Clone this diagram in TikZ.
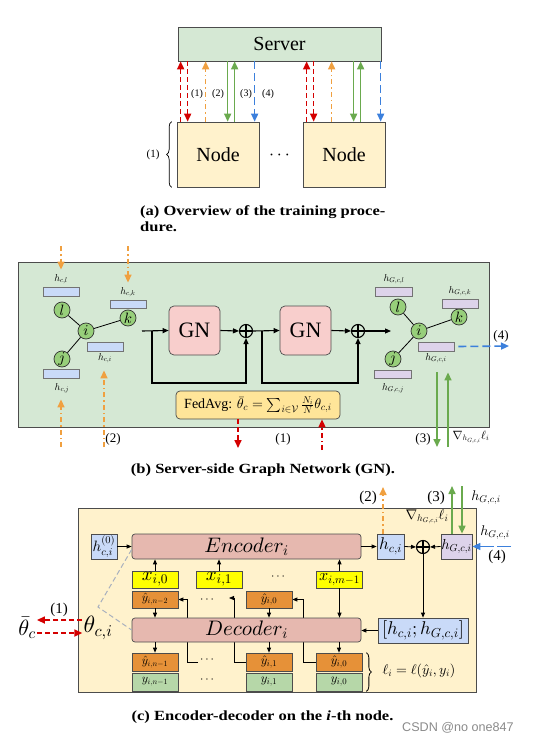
\documentclass[tikz,border=0pt]{standalone}
\usepackage{amsmath,amssymb}
\usepackage{fontspec}
\setmainfont{Liberation Serif}
\newfontfamily\capfont[FakeStretch=1.18]{Liberation Serif}
\newfontfamily\wmfont{Liberation Sans}
\DeclareFontShape{OML}{cmm}{m}{it}{<->cmmi10}{}
\DeclareFontShape{OMS}{cmsy}{m}{n}{<->cmsy10}{}
\DeclareFontShape{OMX}{cmex}{m}{n}{<->cmex10}{}
\DeclareFontShape{OT1}{cmr}{m}{n}{<->cmr10}{}
\usetikzlibrary{arrows.meta,decorations.pathreplacing,backgrounds}
\definecolor{cgreen}{HTML}{D5E8D4}
\definecolor{cyellow}{HTML}{FFF2CC}
\definecolor{cpink}{HTML}{F8CECC}
\definecolor{cnode}{HTML}{97CF7A}
\definecolor{cblue}{HTML}{C9DAF8}
\definecolor{cpurple}{HTML}{DDD3EA}
\definecolor{cfed}{HTML}{FFE599}
\definecolor{cenc}{HTML}{E6B8AF}
\definecolor{cxx}{HTML}{FFFF00}
\definecolor{cyhat}{HTML}{E69138}
\definecolor{cyy}{HTML}{B6D7A8}
\definecolor{cred}{HTML}{D40000}
\definecolor{corange}{HTML}{F0A040}
\definecolor{cgarr}{HTML}{6AAA4E}
\definecolor{cbarr}{HTML}{3C80DC}
\definecolor{cgray}{HTML}{A8B0BE}
\definecolor{cwm}{HTML}{8A8A8A}
\tikzset{
  fs/.style={font=\fontsize{#1}{#1}\selectfont},
  bx/.style={draw=black!70, line width=0.7pt, inner sep=0pt},
  bar/.style={draw=black!55, line width=0.6pt, fill=#1, minimum width=36, minimum height=9, inner sep=0pt},
  sbox/.style={bx, fill=#1, minimum width=46, minimum height=17},
  gnode/.style={circle, draw=black!80, line width=0.7pt, fill=cnode, minimum size=16, inner sep=0pt, fs=15},
  gnbox/.style={bx, fill=cpink, rounded corners=5pt, minimum width=51, minimum height=49, fs=22},
  opl/.style={circle, draw, line width=1.1pt, minimum size=13, inner sep=0pt,
    path picture={\draw[line width=1.1pt] (path picture bounding box.north) -- (path picture bounding box.south)
      (path picture bounding box.west) -- (path picture bounding box.east);}},
  tipk/.style={-{Triangle[length=6pt,width=5pt]}},
  blk/.style={draw=black, line width=1.1pt},
  blkc/.style={draw=black, line width=0.8pt, -{Triangle[length=5pt,width=4pt]}},
  harr/.style={line width=1.6pt, -{Triangle[length=8pt,width=7pt]}},
  rdash/.style={harr, cred, dash pattern=on 5pt off 3pt},
  rdd/.style={harr, cred, dash pattern=on 5pt off 3pt on 1.5pt off 3pt},
  odd/.style={harr, corange, dash pattern=on 5pt off 3pt on 1.5pt off 3pt},
  gsol/.style={harr, cgarr},
  bdash/.style={harr, cbarr, dash pattern=on 8pt off 4pt},
  captxt/.style={font=\fontsize{14}{16}\selectfont\capfont\bfseries, inner sep=0pt},
}
\begin{document}
\begin{tikzpicture}[x=1pt,y=-1pt]
\useasboundingbox (0,0) rectangle (542,741);
% ================= (a) =================
\node[bx, fill=cgreen, minimum width=203, minimum height=34, fs=20] (server) at (279.5,44) {Server};
\node[bx, fill=cyellow, minimum width=82, minimum height=65, fs=20] (nodeL) at (218,154.5) {Node};
\node[bx, fill=cyellow, minimum width=82, minimum height=65, fs=20] (nodeR) at (344,154.5) {Node};
\node[fs=18] (adots) at (281,155) {$\cdots$};
\foreach \n in {nodeL,nodeR}{
  \draw[rdash] ([xshift=4pt]\n.north west) -- ([xshift=4pt]\n.north west |- server.south);
  \draw[rdash] ([xshift=11pt]\n.north west |- server.south) -- ([xshift=11pt]\n.north west);
  \draw[odd] ([xshift=29pt]\n.north west) -- ([xshift=29pt]\n.north west |- server.south);
  \draw[gsol] ([xshift=51pt]\n.north west |- server.south) -- ([xshift=51pt]\n.north west);
  \draw[gsol] ([xshift=58pt]\n.north west) -- ([xshift=58pt]\n.north west |- server.south);
  \draw[bdash] ([xshift=78pt]\n.north west |- server.south) -- ([xshift=78pt]\n.north west);
}
\node[fs=10] (la1) at (197,94) {(1)};
\node[fs=10] (la2) at (218,94) {(2)};
\node[fs=10] (la3) at (246,94) {(3)};
\node[fs=10] (la4) at (268,94) {(4)};
\draw[decorate, decoration={brace, amplitude=5pt}, line width=0.7pt] ([xshift=-5pt]nodeL.south west) -- ([xshift=-5pt]nodeL.north west);
\node[fs=11] (lab1) at (153,155) {(1)};
\node[captxt, anchor=base west] (capa1) at (140,215) {(a) Overview of the training proce-};
\node[captxt, anchor=base west] (capa2) at (140,231) {dure.};
% ================= (b) =================
\node[bx, fill=cgreen, minimum width=471, minimum height=165] (gbox) at (253.5,344.5) {};
\node[gnode] (gl) at (62,310) {$l$};
\node[gnode] (gi) at (86,331) {$i$};
\node[gnode] (gk) at (128,318) {$k$};
\node[gnode] (gj) at (62,359) {$j$};
\draw[line width=0.8pt] (gl) -- (gi);
\draw[line width=0.8pt] (gi) -- (gk);
\draw[line width=0.8pt] (gi) -- (gj);
\node[bar=cblue] (hcl) at (61,291.5) {};
\node[bar=cblue, minimum height=8] (hck) at (128.5,304) {};
\node[bar=cblue] (hci) at (105,346.5) {};
\node[bar=cblue] (hcj) at (61,373.5) {};
\node[fs=10] (hcllab) at (61,279) {$h_{c,l}$};
\node[fs=10] (hcklab) at (128,292) {$h_{c,k}$};
\node[fs=10] (hcilab) at (105,358) {$h_{c,i}$};
\node[fs=10] (hcjlab) at (62,388) {$h_{c,j}$};
\coordinate (o1) at (61,246);
\coordinate (o2) at (128,246);
\coordinate (o3) at (61,447);
\coordinate (o4) at (104,447);
\draw[odd] (o1) -- ([yshift=1pt]o1 |- hcllab.north);
\draw[odd] (o2) -- ([yshift=1pt]o2 |- hcklab.north);
\draw[odd] (o3) -- ([yshift=-3pt]o3 |- hcjlab.south);
\draw[odd] (o4) -- ([yshift=-4pt]o4 |- hcilab.south);
\node[fs=13] (lb2) at (113,439) {(2)};
\node[gnbox] (gn1) at (194.5,330.5) {GN};
\node[opl] (op1) at (246,331) {};
\node[gnbox] (gn2) at (305.5,330.5) {GN};
\node[opl] (op2) at (358,331) {};
\coordinate (bin) at (142,331);
\coordinate (s1) at (152,331);
\coordinate (s1b) at (152,383);
\coordinate (s2) at (262,331);
\coordinate (s2b) at (262,383);
\coordinate (bout) at (391,331);
\draw[blk, tipk] (bin) -- (gn1.west);
\draw[blk, tipk] (s1) -- (s1b) -- (s1b -| op1) -- (op1.south);
\draw[blk, tipk] (gn1.east) -- (op1.west);
\draw[blk, tipk] (op1.east) -- (gn2.west);
\draw[blk, tipk] (s2) -- (s2b) -- (s2b -| op2) -- (op2.south);
\draw[blk, tipk] (gn2.east) -- (op2.west);
\draw[blk, tipk] (op2.east) -- (bout);
\node[gnode] (Gl) at (398,307) {$l$};
\node[gnode] (Gi) at (419,331) {$i$};
\node[gnode] (Gk) at (459,317) {$k$};
\node[gnode] (Gj) at (393,359) {$j$};
\draw[line width=0.8pt] (Gl) -- (Gi);
\draw[line width=0.8pt] (Gi) -- (Gk);
\draw[line width=0.8pt] (Gi) -- (Gj);
\node[bar=cpurple, minimum width=37] (hGl) at (393.5,291.5) {};
\node[bar=cpurple] (hGk) at (460,303.5) {};
\node[bar=cpurple] (hGi) at (436,346.5) {};
\node[bar=cpurple, minimum width=37, minimum height=8] (hGj) at (392.5,374) {};
\node[fs=10] (hGllab) at (394,279) {$h_{G,c,l}$};
\node[fs=10] (hGklab) at (460,291) {$h_{G,c,k}$};
\node[fs=10] (hGilab) at (436,358) {$h_{G,c,i}$};
\node[fs=10] (hGjlab) at (393,388) {$h_{G,c,j}$};
\coordinate (b4b) at (509,346);
\draw[bdash] ([xshift=4pt]hGi.east) -- (b4b);
\node[fs=13] (lb4) at (501,336) {(4)};
\coordinate (gb1) at (437,447);
\coordinate (gb2) at (448,447);
\draw[gsol] ([yshift=-6pt]gb1 |- hGilab.south) -- (gb1);
\draw[gsol] (gb2) -- ([yshift=-6pt]gb2 |- hGilab.south);
\node[fs=13] (lb3) at (423,439) {(3)};
\node[fs=12] (lbn) at (471,437) {$\nabla_{h_{G,c,i}}\ell_i$};
\node[bx, fill=cfed, rounded corners=4pt, minimum width=164, minimum height=28, fs=14] (fed) at (258,405)
  {FedAvg: $\bar\theta_c = \sum_{i\in\mathcal{V}} \frac{N_i}{N}\theta_{c,i}$};
\coordinate (r1) at (238,448);
\coordinate (r2) at (322,450);
\draw[rdash] ([xshift=-20pt]fed.south) -- (r1);
\draw[rdd] (r2) -- ([xshift=64pt]fed.south);
\node[fs=13] (lb1) at (283,439) {(1)};
\node[captxt, anchor=base] (capb) at (263,473) {(b) Server-side Graph Network (GN).};
% ================= (c) =================
\node[bx, fill=cblue, minimum width=26, minimum height=25, fs=15] (h0) at (104,546.5) {$h^{(0)}_{c,i}$};
\node[bx, fill=cenc, rounded corners=3pt, minimum width=229, minimum height=25, fs=21] (enc) at (246.5,546.5) {$Encoder_i$};
\node[bx, fill=cenc, rounded corners=3pt, minimum width=229, minimum height=24, fs=21] (dec) at (246.5,630) {$Decoder_i$};
\node[sbox=cxx, fs=19] (x0) at (155,579.5) {$x_{i,0}$};
\node[sbox=cxx, fs=19] (x1) at (219,579.5) {$x_{i,1}$};
\node[sbox=cxx, fs=16] (xm) at (339.5,579.5) {$x_{i,m-1}$};
\node[fs=12] (xd) at (279,577) {$\cdots$};
\node[sbox=cyhat, fs=12] (yt2) at (155,599.5) {$\hat y_{i,n-2}$};
\node[sbox=cyhat, fs=12.5] (yt0) at (269,599.5) {$\hat y_{i,0}$};
\node[fs=12] (ytd) at (208,600) {$\cdots$};
\node[sbox=cyhat, minimum height=18, fs=12] (yb1) at (155,662) {$\hat y_{i,n-1}$};
\node[sbox=cyhat, minimum height=18, fs=12.5] (yb2) at (269,662) {$\hat y_{i,1}$};
\node[sbox=cyhat, minimum height=18, fs=12.5] (yb3) at (339,662) {$\hat y_{i,0}$};
\node[fs=12] (ybd) at (208,660) {$\cdots$};
\node[sbox=cyy, minimum height=18, fs=12] (y1) at (155,682) {$y_{i,n-1}$};
\node[sbox=cyy, minimum height=18, fs=12.5] (y2) at (269,682) {$y_{i,1}$};
\node[sbox=cyy, minimum height=18, fs=12.5] (y3) at (339,682) {$y_{i,0}$};
\node[fs=12] (yd) at (208,680) {$\cdots$};
\draw[blkc] (h0.east) -- (enc.west);
\foreach \b in {x0,x1,xm}{ \draw[blkc] (\b.north) -- (\b.north |- enc.south); }
\draw[blkc] (xm.south) -- (xm.south |- dec.north);
\foreach \b in {yt2,yt0}{ \draw[blkc] (\b.south) -- (\b.south |- dec.north); }
\foreach \b in {yb1,yb2,yb3}{ \draw[blkc] (\b.north |- dec.south) -- (\b.north); }
\node[bx, fill=cblue, minimum width=27, minimum height=25, fs=17] (hcic) at (390.5,546.5) {$h_{c,i}$};
\node[opl] (op3) at (423,547) {};
\node[bx, fill=cpurple, minimum width=31, minimum height=25, fs=14.5] (hgci) at (456.5,546.5) {$h_{G,c,i}$};
\node[bx, fill=cblue, minimum width=90, minimum height=25, fs=18.5] (cat) at (423,630.5) {$[h_{c,i};h_{G,c,i}]$};
\draw[blkc] (enc.east |- hcic.west) -- (hcic.west);
\draw[blkc] (hcic.east) -- (op3.west);
\draw[blkc] (hgci.west) -- (op3.east);
\draw[blkc] (op3.south) -- (cat.north);
\draw[blkc] (cat.west) -- (cat.west -| dec.east);
\coordinate (g3a) at (452,486);
\coordinate (g3b) at (462,486);
\draw[gsol] (g3a |- hgci.north) -- (g3a);
\draw[gsol] (g3b) -- (g3b |- hgci.north);
\coordinate (b4c) at (511,546.5);
\draw[bdash, dash pattern=on 14pt off 3pt] (b4c) -- (hgci.east);
\coordinate (o2c) at (383,487);
\draw[odd] (o2c |- hcic.north) -- (o2c);
\node[fs=15] (lc2) at (368,498) {(2)};
\node[fs=15] (lc3) at (436,498) {(3)};
\node[fs=14] (lchg) at (486,498) {$h_{G,c,i}$};
\node[fs=14] (lcnab) at (427,517) {$\nabla_{h_{G,c,i}}\ell_i$};
\node[fs=14] (lchg2) at (495,533) {$h_{G,c,i}$};
\node[fs=15] (lc4) at (497,557) {(4)};
\node[fs=23.5, inner sep=1pt] (theta) at (98,628) {$\theta_{c,i}$};
\node[fs=22, inner sep=1pt] (thetabar) at (27,628) {$\bar\theta_c$};
\draw[rdash] ([yshift=8pt]theta.west) -- ([yshift=8pt]thetabar.east);
\draw[rdash] ([yshift=-5pt]thetabar.east) -- ([yshift=-5pt]theta.west);
\node[fs=15] (lc1) at (59,610) {(1)};
\coordinate (gv) at (98,607);
\draw[cgray, line width=1pt, dash pattern=on 5pt off 3pt] ([yshift=-3pt]enc.west) -- (gv) -- (dec.west);
\draw[decorate, decoration={brace, amplitude=5pt}, line width=0.8pt] ([xshift=4pt]yb3.north east) -- ([xshift=4pt]y3.south east);
\node[fs=14, anchor=west] (lossl) at (379,671) {$\ell_i=\ell(\hat y_i,y_i)$};
\node[captxt, anchor=base] (capc) at (262.5,720) {(c) Encoder-decoder on the \textit{i}-th node.};
\node[font=\fontsize{12.6}{13}\selectfont\wmfont, text=cwm, anchor=base west, inner sep=0pt] (wm) at (402,731) {CSDN @no one847};
\coordinate (ytdin) at (229,598);
\coordinate (ybdw) at (198,662);
\begin{scope}[on background layer]
\node[bx, fill=cyellow, minimum width=398, minimum height=184] (cbox) at (277,600) {};
\draw[blkc] (yb3.west) -- ++(-12,0) |- (yt0.east);
\draw[blkc] (yb2.west) -- ++(-11,0) |- (ytdin);
\draw[blkc] (ybdw) -- ++(-11,0) |- (yt2.east);
\end{scope}
\end{tikzpicture}
\end{document}
